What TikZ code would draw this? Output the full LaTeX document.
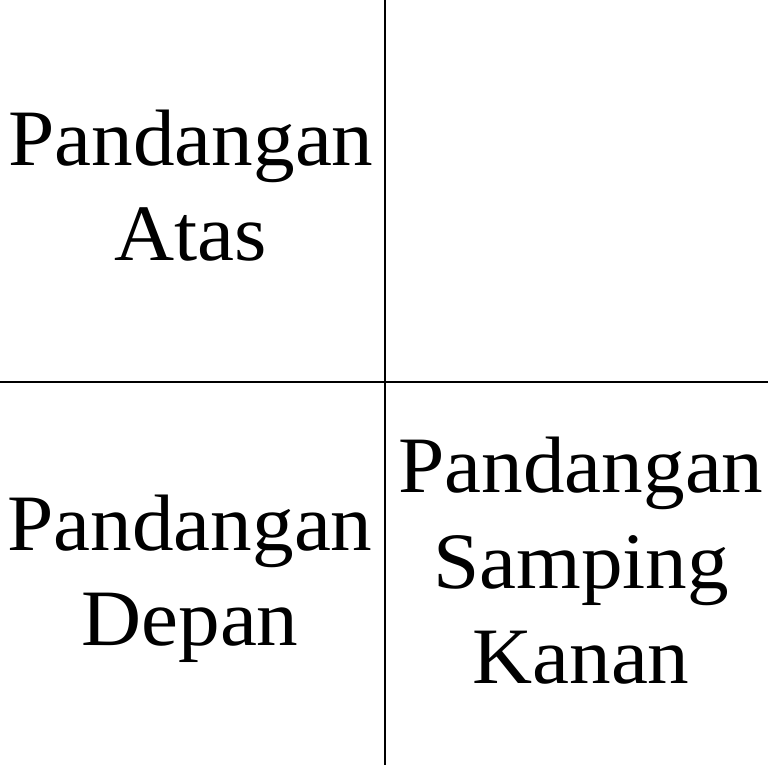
\documentclass[tikz,border=0pt]{standalone}
\usepackage{fontspec}
\setmainfont{Liberation Serif}
\begin{document}
\begin{tikzpicture}[x=1pt,y=-1pt,
  lbl/.style={anchor=base,inner sep=0pt,font=\fontsize{80}{80}\selectfont,xscale=1.04},
  rule/.style={line width=2pt,black}]
\useasboundingbox[fill=white] (0,0) rectangle (768,768);
\coordinate (vtop) at (385,0);
\coordinate (vbot) at (385,765);
\coordinate (hl) at (0,382);
\coordinate (hr) at (768,382);
\draw[rule] (vtop) -- (vbot);
\draw[rule] (hl) -- (hr);
\node[lbl] (a1) at (191,165) {Pandangan};
\node[lbl] (a2) at (191,260) {Atas};
\node[lbl] (b1) at (190,550) {Pandangan};
\node[lbl] (b2) at (190,645) {Depan};
\node[lbl] (c1) at (581,492) {Pandangan};
\node[lbl] (c2) at (581,588) {Samping};
\node[lbl] (c3) at (581,683) {Kanan};
\end{tikzpicture}
\end{document}
